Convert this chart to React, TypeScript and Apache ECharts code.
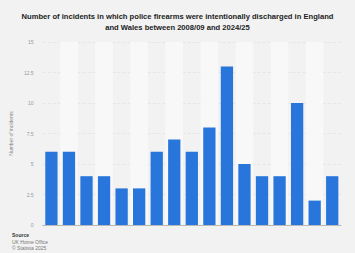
import React, { useEffect, useRef } from "react";
import * as echarts from "echarts";

const categories = [
  "2008/09", "2009/10", "2010/11", "2011/12", "2012/13", "2013/14", "2014/15", "2015/16",
  "2016/17", "2017/18", "2018/19", "2019/20", "2020/21", "2021/22", "2022/23", "2023/24", "2024/25",
];
const incidents = [6, 6, 4, 4, 3, 3, 6, 7, 6, 8, 13, 5, 4, 4, 10, 2, 4];
const titleLines = [
  "Number of incidents in which police firearms were intentionally discharged in England",
  "and Wales between 2008/09 and 2024/25",
];
const yAxisName = "Number of incidents";
const sourceLines = ["Source", "UK Home Office", "© Statista 2025"];

export default function App() {
  const ref = useRef<HTMLDivElement>(null);
  useEffect(() => {
    if (!ref.current) return;
    const chart = echarts.init(ref.current, null, { renderer: "svg" });
    chart.setOption({
      animation: false,
      backgroundColor: "#f2f2f2",
      textStyle: { fontFamily: "Liberation Sans, Arial, sans-serif" },
      title: {
        text: titleLines.join("\n"),
        left: "center",
        top: 6,
        textStyle: { fontSize: 7.6, fontWeight: "bold", color: "#222", lineHeight: 11 },
      },
      graphic: [
        {
          type: "text",
          left: 12,
          top: 232,
          style: { text: sourceLines[0], fontSize: 5, fontWeight: "bold", fill: "#333", fontFamily: "Liberation Sans, Arial, sans-serif" },
        },
        {
          type: "text",
          left: 12,
          top: 239,
          style: { text: sourceLines[1] + "\n" + sourceLines[2], fontSize: 5, lineHeight: 6, fill: "#777", fontFamily: "Liberation Sans, Arial, sans-serif" },
        },
      ],
      grid: { left: 41, right: 14, top: 42, bottom: 28 },
      xAxis: {
        type: "category",
        data: categories,
        axisLine: { lineStyle: { color: "#b8b8b8", width: 1 } },
        axisTick: { show: false },
        axisLabel: { show: false, interval: 0 },
        splitArea: { show: true, interval: 0, areaStyle: { color: ["rgba(0,0,0,0)", "#f8f8f8"] } },
      },
      yAxis: {
        type: "value",
        min: 0,
        max: 15,
        interval: 2.5,
        name: yAxisName,
        nameLocation: "middle",
        nameGap: 22,
        nameTextStyle: { fontSize: 5, color: "#888" },
        axisLine: { show: false },
        axisTick: { show: false },
        axisLabel: { fontSize: 5, color: "#999", margin: 9 },
        splitLine: { lineStyle: { color: "#e2e2e2", type: [3, 2], width: 0.8 } },
      },
      series: [
        {
          type: "bar",
          data: incidents,
          barCategoryGap: "30%",
          itemStyle: { color: "#2876dc" },
        },
      ],
    });
    return () => chart.dispose();
  }, []);
  return (
    <div
      ref={ref}
      style={{ position: "absolute", left: 0, top: 0, width: 355, height: 253 }}
    />
  );
}
